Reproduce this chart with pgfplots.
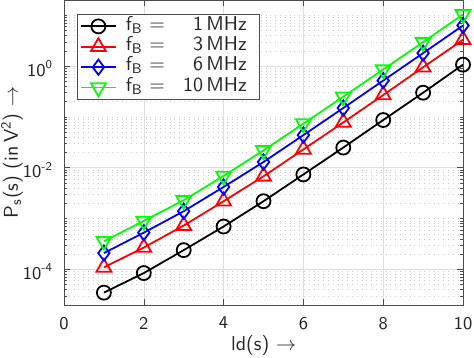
\documentclass[border=0pt]{standalone}
\usepackage{pgfplots}
\pgfplotsset{compat=1.18}
\begin{document}
\begin{tikzpicture}
\begin{axis}[
  scale only axis,
  width=199.5pt, height=152.5pt,
  ymode=log,
  xmin=0, xmax=10, ymin=2e-5, ymax=20,
  xtick={0,2,4,6,8,10},
  xticklabels={0,2,4,6,8,10},
  ytick={1e-4,1e-2,1},
  yticklabels={10\textsuperscript{-4},10\textsuperscript{-2},10\textsuperscript{0}},
  minor ytick={2e-5,3e-5,4e-5,5e-5,6e-5,7e-5,8e-5,9e-5,
    2e-4,3e-4,4e-4,5e-4,6e-4,7e-4,8e-4,9e-4,1e-3,
    2e-3,3e-3,4e-3,5e-3,6e-3,7e-3,8e-3,9e-3,
    2e-2,3e-2,4e-2,5e-2,6e-2,7e-2,8e-2,9e-2,1e-1,
    2e-1,3e-1,4e-1,5e-1,6e-1,7e-1,8e-1,9e-1,
    2,3,4,5,6,7,8,9,10,20},
  xmajorgrids, ymajorgrids, yminorgrids,
  major grid style={draw=black!13, line width=0.3pt},
  minor grid style={draw=black!20, dotted, line width=0.3pt},
  tick align=inside,
  major tick length=3pt, minor tick length=1.5pt,
  every tick/.style={black!70, line width=0.3pt},
  axis line style={black!70, line width=0.4pt},
  tick label style={font=\fontsize{9}{10}\selectfont\sffamily, text=black!85},
  xticklabel style={yshift=-2.5pt},
  yticklabel style={xshift=-2pt, yshift=-1.2pt},
  label style={font=\fontsize{10}{11}\selectfont\sffamily, text=black!85},
  xlabel={ld(s) $\rightarrow$},
  ylabel={P\textsubscript{s}(s) (in\,V\textsuperscript{2}) $\rightarrow$},
  xlabel style={at={(axis description cs:0.5,0)}, anchor=center, yshift=-20pt, inner sep=0.5pt},
  ylabel style={at={(axis description cs:-0.1303,0.5)}, anchor=center, inner sep=0.5pt},
  legend style={at={(rel axis cs:0,1)}, anchor=north west, xshift=6.3pt, yshift=-6.9pt,
    font=\fontsize{10}{11}\selectfont\sffamily, draw=black!70, line width=0.4pt,
    inner xsep=1.5pt, inner ysep=1pt, row sep=0pt, column sep=4.5pt, text=black!85,
    nodes={inner sep=0pt, text height=7pt, text depth=3.2pt}},
  legend cell align=left,
  legend image code/.code={\draw[mark repeat=2, mark phase=2, #1] plot coordinates {(0pt,0pt) (8.75pt,0pt) (17.5pt,0pt)};},
]
\coordinate (sw) at (rel axis cs:0,0);
\coordinate (ne) at (rel axis cs:1,1);
\addplot[black, line width=0.9pt, mark=o, mark size=3.5pt] coordinates {
 (1,3.5e-5) (2,8.5e-5) (3,2.4e-4) (4,7e-4) (5,2.2e-3) (6,7.4e-3) (7,2.5e-2) (8,8.7e-2) (9,0.30) (10,1.07)};
\addlegendentry{\makebox[28pt][l]{f\textsubscript{B} $=$}\makebox[37.5pt][r]{1\,MHz\hspace{5pt}}}
\addplot[red, line width=0.9pt, mark=triangle, mark size=4.3pt] coordinates {
 (1,1.1e-4) (2,2.7e-4) (3,7.3e-4) (4,2.2e-3) (5,6.8e-3) (6,2.3e-2) (7,7.8e-2) (8,0.27) (9,0.95) (10,3.3)};
\addlegendentry{\makebox[28pt][l]{f\textsubscript{B} $=$}\makebox[37.5pt][r]{3\,MHz\hspace{5pt}}}
\addplot[blue, line width=0.9pt, mark=diamond, mark size=3.8pt] coordinates {
 (1,2.1e-4) (2,5.3e-4) (3,1.4e-3) (4,4.2e-3) (5,1.3e-2) (6,4.4e-2) (7,0.15) (8,0.52) (9,1.8) (10,6.3)};
\addlegendentry{\makebox[28pt][l]{f\textsubscript{B} $=$}\makebox[37.5pt][r]{6\,MHz\hspace{5pt}}}
\addplot[green, line width=0.9pt, mark=triangle, mark size=4.3pt, mark options={rotate=180}] coordinates {
 (1,3.6e-4) (2,9e-4) (3,2.3e-3) (4,6.9e-3) (5,2.2e-2) (6,7.4e-2) (7,0.25) (8,0.86) (9,2.96) (10,10.4)};
\addlegendentry{\makebox[28pt][l]{f\textsubscript{B} $=$}\makebox[37.5pt][r]{10\,MHz\hspace{5pt}}}
\end{axis}
\pgfresetboundingbox
\path[use as bounding box] ([shift={(-32pt,-26pt)}]sw) rectangle ([shift={(5.5pt,0pt)}]ne);
\end{tikzpicture}
\end{document}
